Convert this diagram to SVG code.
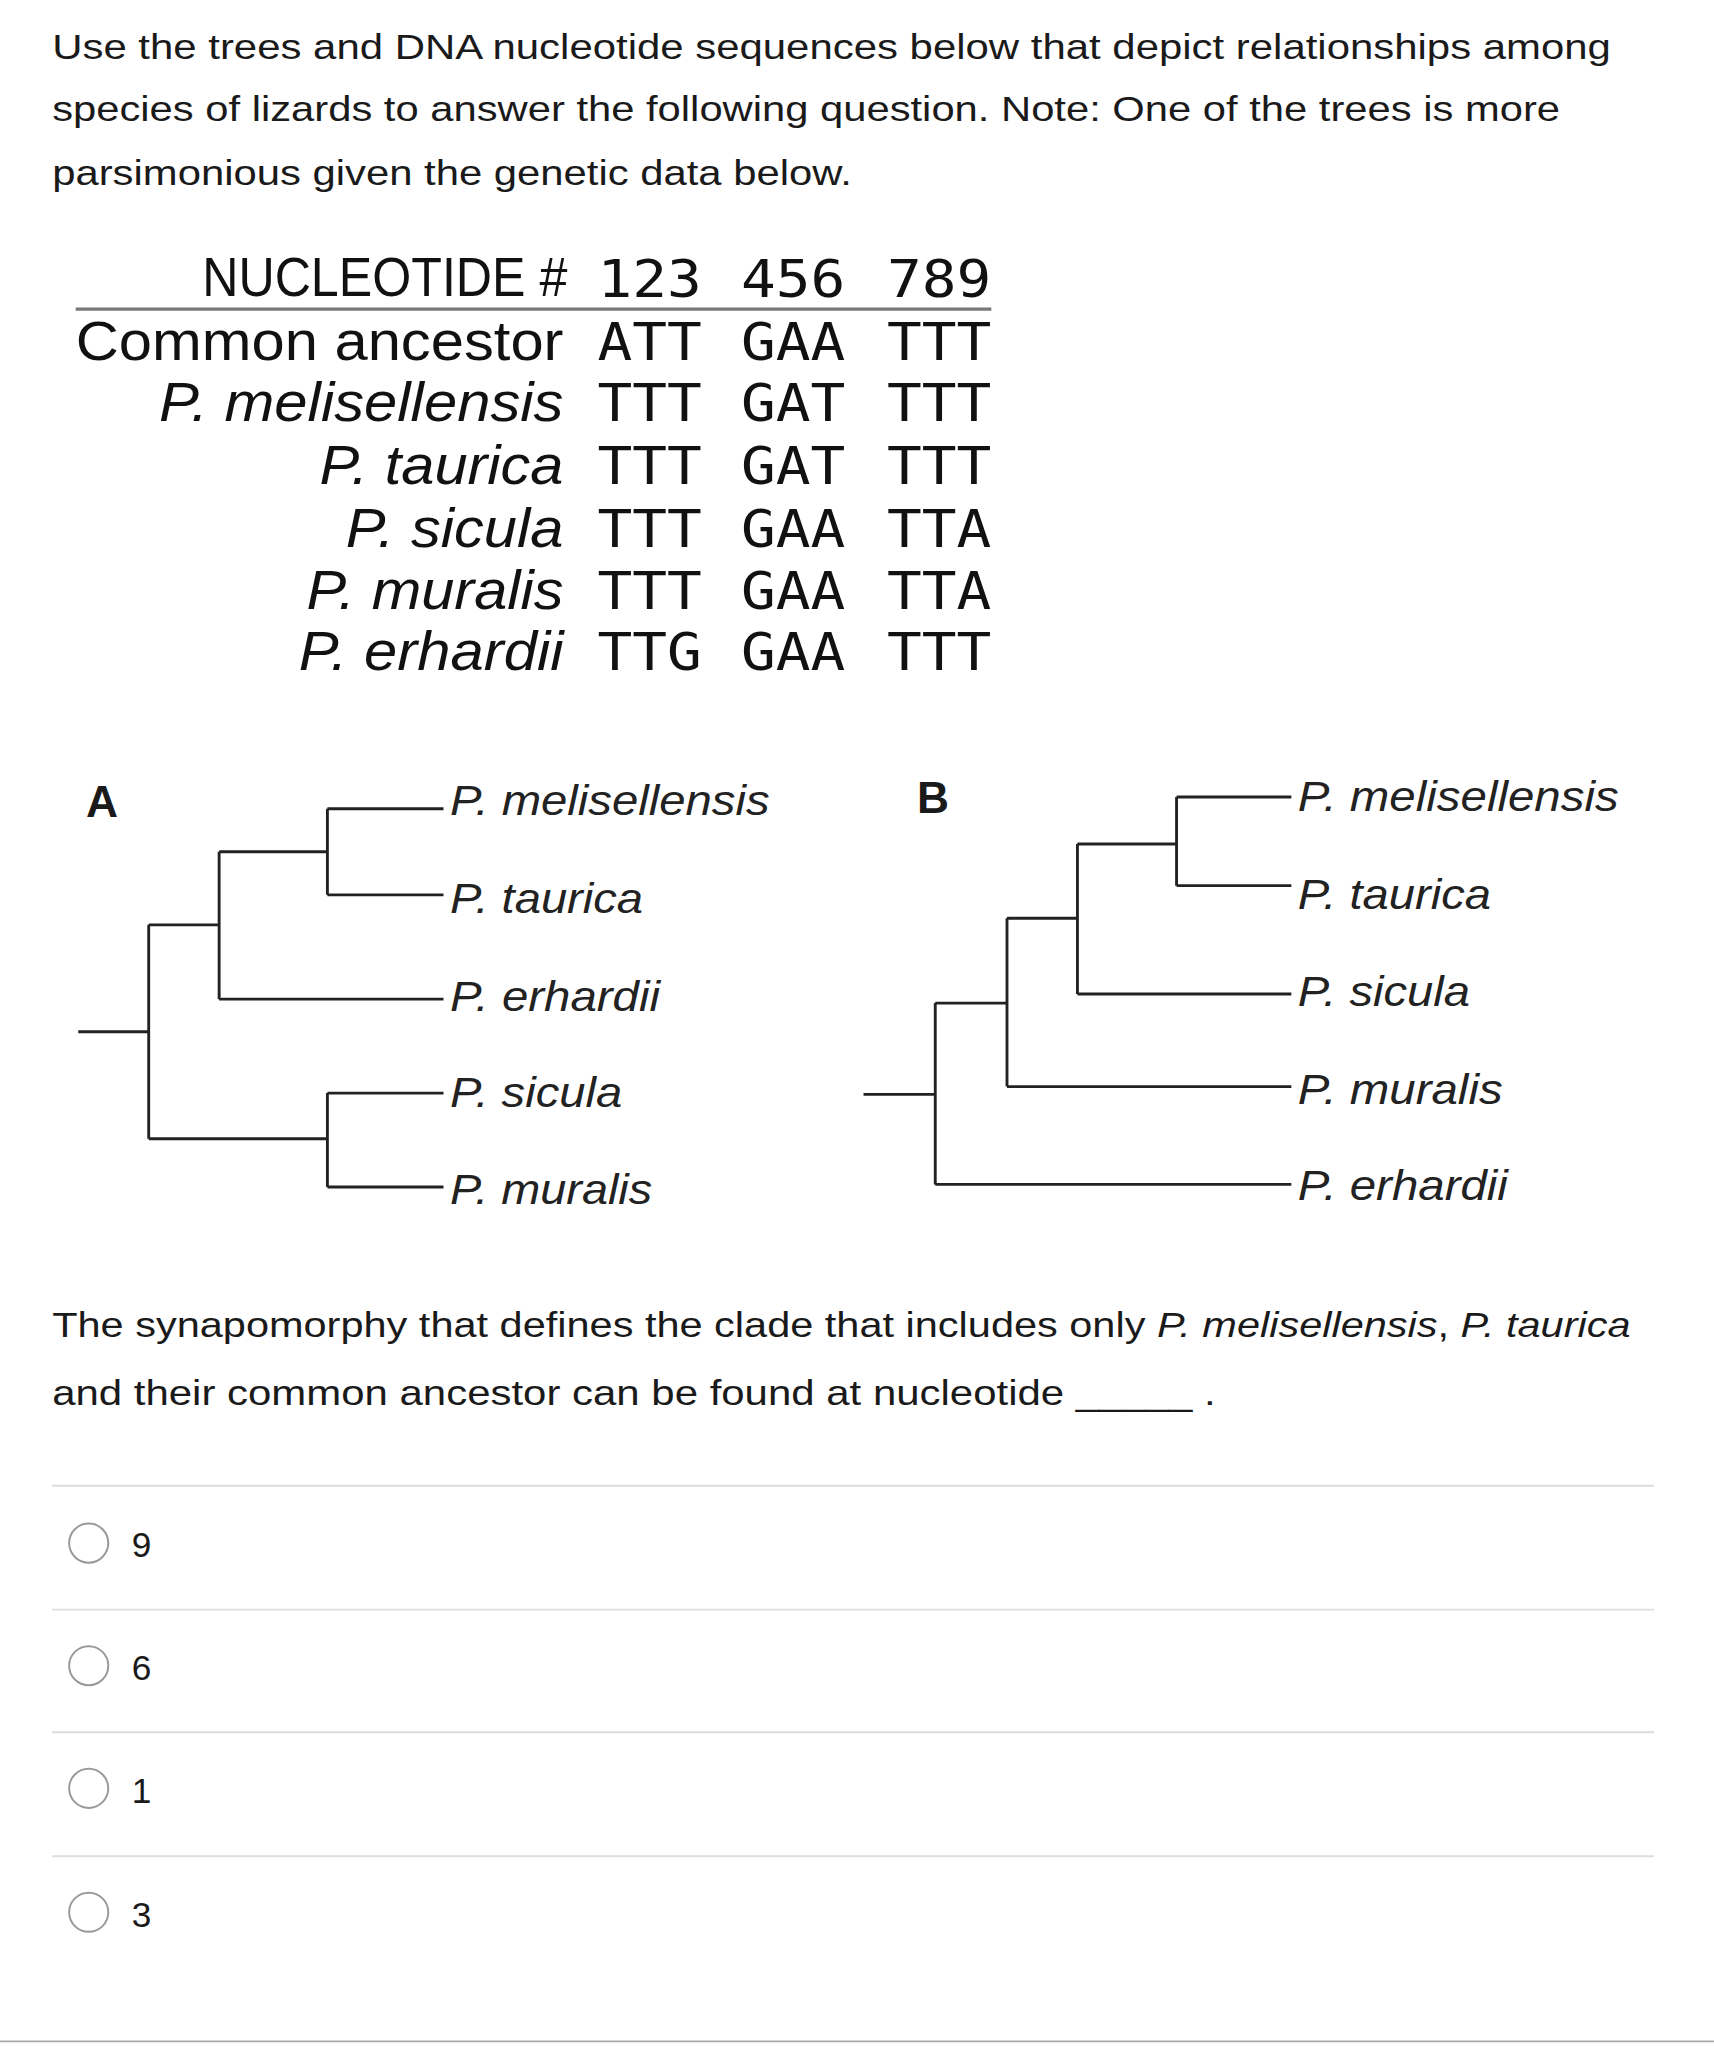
<svg xmlns="http://www.w3.org/2000/svg" width="1714" height="2046" viewBox="0 0 1714 2046">
<style>
.t{font-family:"Liberation Sans",Arial,sans-serif;fill:#1a1a1a}
.i{font-style:italic}
.m{font-family:"DejaVu Sans Mono","Liberation Mono",monospace;font-size:40px;fill:#111}
.lab{font-family:"Liberation Sans",Arial,sans-serif;font-size:42px;fill:#111;text-anchor:end}
.tl{font-family:"Liberation Sans",Arial,sans-serif;font-size:32px;font-style:italic;fill:#222}
.br{stroke:#222;stroke-width:2.2;fill:none}
.sep{stroke:#ddd;stroke-width:1.5}
.rad{fill:#fff;stroke:#999;stroke-width:1.5}
</style>
<rect width="1714" height="2046" fill="#fff"/>
<g transform="scale(1.3044)">
<g id="intro" class="t" font-size="27">
<text x="40" y="45" textLength="1195" lengthAdjust="spacingAndGlyphs">Use the trees and DNA nucleotide sequences below that depict relationships among</text>
<text x="40" y="93" textLength="1156" lengthAdjust="spacingAndGlyphs">species of lizards to answer the following question. Note: One of the trees is more</text>
<text x="40" y="142" textLength="613" lengthAdjust="spacingAndGlyphs">parsimonious given the genetic data below.</text>
</g>
<g id="table">
<text class="lab" x="435" y="227" font-size="36" textLength="280" lengthAdjust="spacingAndGlyphs">NUCLEOTIDE #</text>
<text class="m" x="458" y="228" textLength="80" lengthAdjust="spacingAndGlyphs">123</text>
<text class="m" x="568" y="228" textLength="80" lengthAdjust="spacingAndGlyphs">456</text>
<text class="m" x="680" y="228" textLength="80" lengthAdjust="spacingAndGlyphs">789</text>
<line x1="58" y1="237" x2="760" y2="237" stroke="#777" stroke-width="2.5"/>
<text class="lab" x="432" y="276" textLength="374" lengthAdjust="spacingAndGlyphs">Common ancestor</text>
<text class="lab i" x="432" y="323" textLength="310" lengthAdjust="spacingAndGlyphs">P. melisellensis</text>
<text class="lab i" x="432" y="371" textLength="187" lengthAdjust="spacingAndGlyphs">P. taurica</text>
<text class="lab i" x="432" y="419" textLength="167" lengthAdjust="spacingAndGlyphs">P. sicula</text>
<text class="lab i" x="432" y="467" textLength="197" lengthAdjust="spacingAndGlyphs">P. muralis</text>
<text class="lab i" x="432" y="514" textLength="203" lengthAdjust="spacingAndGlyphs">P. erhardii</text>
<g class="m">
<text x="458" y="276" textLength="80" lengthAdjust="spacingAndGlyphs">ATT</text><text x="568" y="276" textLength="80" lengthAdjust="spacingAndGlyphs">GAA</text><text x="680" y="276" textLength="80" lengthAdjust="spacingAndGlyphs">TTT</text>
<text x="458" y="323" textLength="80" lengthAdjust="spacingAndGlyphs">TTT</text><text x="568" y="323" textLength="80" lengthAdjust="spacingAndGlyphs">GAT</text><text x="680" y="323" textLength="80" lengthAdjust="spacingAndGlyphs">TTT</text>
<text x="458" y="371" textLength="80" lengthAdjust="spacingAndGlyphs">TTT</text><text x="568" y="371" textLength="80" lengthAdjust="spacingAndGlyphs">GAT</text><text x="680" y="371" textLength="80" lengthAdjust="spacingAndGlyphs">TTT</text>
<text x="458" y="419" textLength="80" lengthAdjust="spacingAndGlyphs">TTT</text><text x="568" y="419" textLength="80" lengthAdjust="spacingAndGlyphs">GAA</text><text x="680" y="419" textLength="80" lengthAdjust="spacingAndGlyphs">TTA</text>
<text x="458" y="467" textLength="80" lengthAdjust="spacingAndGlyphs">TTT</text><text x="568" y="467" textLength="80" lengthAdjust="spacingAndGlyphs">GAA</text><text x="680" y="467" textLength="80" lengthAdjust="spacingAndGlyphs">TTA</text>
<text x="458" y="514" textLength="80" lengthAdjust="spacingAndGlyphs">TTG</text><text x="568" y="514" textLength="80" lengthAdjust="spacingAndGlyphs">GAA</text><text x="680" y="514" textLength="80" lengthAdjust="spacingAndGlyphs">TTT</text>
</g>
</g>
<g id="treeA">
<text class="t" x="66" y="626" font-size="34" font-weight="bold">A</text>
<path class="br" d="M60 791H114M114 709V873M114 709H168M168 653V766M168 653H251M251 620V686M251 620H340M251 686H340M168 766H340M114 873H251M251 838V910M251 838H340M251 910H340"/>
<text class="tl" x="345" y="625" textLength="245" lengthAdjust="spacingAndGlyphs">P. melisellensis</text>
<text class="tl" x="345" y="700" textLength="148" lengthAdjust="spacingAndGlyphs">P. taurica</text>
<text class="tl" x="345" y="775" textLength="161" lengthAdjust="spacingAndGlyphs">P. erhardii</text>
<text class="tl" x="345" y="849" textLength="132" lengthAdjust="spacingAndGlyphs">P. sicula</text>
<text class="tl" x="345" y="923" textLength="155" lengthAdjust="spacingAndGlyphs">P. muralis</text>
</g>
<g id="treeB">
<text class="t" x="703" y="623" font-size="34" font-weight="bold">B</text>
<path class="br" d="M662 839H717M717 769V908M717 769H772M772 704V833M772 704H826M826 647V762M826 647H902M902 611V679M902 611H990M902 679H990M826 762H990M772 833H990M717 908H990"/>
<text class="tl" x="995" y="622" textLength="246" lengthAdjust="spacingAndGlyphs">P. melisellensis</text>
<text class="tl" x="995" y="697" textLength="148" lengthAdjust="spacingAndGlyphs">P. taurica</text>
<text class="tl" x="995" y="771" textLength="132" lengthAdjust="spacingAndGlyphs">P. sicula</text>
<text class="tl" x="995" y="846" textLength="157" lengthAdjust="spacingAndGlyphs">P. muralis</text>
<text class="tl" x="995" y="920" textLength="161" lengthAdjust="spacingAndGlyphs">P. erhardii</text>
</g>
<g id="question" class="t" font-size="27">
<text x="40" y="1025" textLength="1210" lengthAdjust="spacingAndGlyphs">The synapomorphy that defines the clade that includes only <tspan class="i">P. melisellensis</tspan>, <tspan class="i">P. taurica</tspan></text>
<text x="40" y="1077" textLength="892" lengthAdjust="spacingAndGlyphs">and their common ancestor can be found at nucleotide _____ .</text>
</g>
<g id="options">
<line class="sep" x1="40" y1="1139" x2="1268" y2="1139"/>
<line class="sep" x1="40" y1="1234" x2="1268" y2="1234"/>
<line class="sep" x1="40" y1="1328" x2="1268" y2="1328"/>
<line class="sep" x1="40" y1="1423" x2="1268" y2="1423"/>
<line x1="0" y1="1565" x2="1314" y2="1565" stroke="#aaa" stroke-width="1.5"/>
<circle class="rad" cx="68" cy="1183" r="15"/>
<circle class="rad" cx="68" cy="1277" r="15"/>
<circle class="rad" cx="68" cy="1371" r="15"/>
<circle class="rad" cx="68" cy="1466" r="15"/>
<text class="t" x="101" y="1194" font-size="27">9</text>
<text class="t" x="101" y="1288" font-size="27">6</text>
<text class="t" x="101" y="1382" font-size="27">1</text>
<text class="t" x="101" y="1477" font-size="27">3</text>
</g>
</g>
</svg>
